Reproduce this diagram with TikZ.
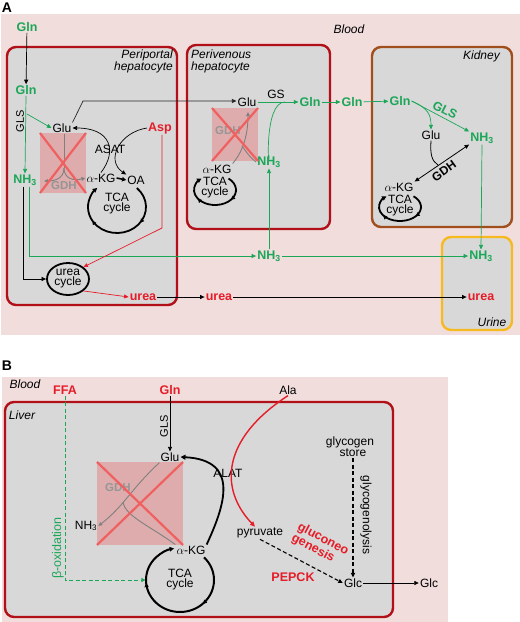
\documentclass[tikz,border=0pt]{standalone}
\usepackage{fontspec}
\setmainfont{Liberation Sans}
\usetikzlibrary{arrows.meta,decorations.markings,calc,shapes.geometric}
\definecolor{pinkbg}{RGB}{242,221,221}
\definecolor{cellg}{RGB}{216,216,216}
\definecolor{cellred}{RGB}{178,16,24}
\definecolor{kbrown}{RGB}{160,78,28}
\definecolor{ugold}{RGB}{246,186,30}
\definecolor{grn}{RGB}{28,166,88}
\definecolor{rd}{RGB}{230,28,40}
\definecolor{gdhf}{RGB}{222,172,172}
\definecolor{xred}{RGB}{240,96,96}
\definecolor{gtext}{RGB}{150,150,150}
\begin{document}
\begin{tikzpicture}[x=1pt,y=-1pt,
  font=\fontsize{12}{10}\selectfont,
  ar/.style={-{Triangle[length=4.5pt,width=4pt]}, line width=0.7pt},
  bl/.style={inner sep=1pt},
  gl/.style={text=grn, font=\fontsize{12.5}{10}\selectfont\bfseries, inner sep=1pt},
  rl/.style={text=rd, font=\fontsize{12.5}{10}\selectfont\bfseries, inner sep=1pt},
  itl/.style={font=\fontsize{12}{12}\selectfont\itshape, inner sep=0pt},
  cell/.style={fill=cellg, draw=cellred, line width=2.4pt, rounded corners=9pt},
  xl/.style={draw=xred, line width=2.2pt},
  gdht/.style={text=gtext, font=\fontsize{11.5}{10}\selectfont\bfseries, inner sep=0pt},
  gline/.style={draw=gtext!85!black, line width=0.9pt},
  gtip/.style={-{Triangle[length=4pt,width=3.5pt]}},
  small/.style={font=\fontsize{11}{10}\selectfont, inner sep=1pt},
  cyc/.style={line width=1.8pt, -{Triangle[length=4.5pt,width=4.5pt]},
    postaction={decorate},
    decoration={markings,
      mark=at position 0.3 with {\arrow{Triangle[length=4pt,width=4pt]}},
      mark=at position 0.72 with {\arrow{Triangle[length=4pt,width=4pt]}}}},
  dsh/.style={dash pattern=on 4pt off 2.5pt}
]
\useasboundingbox (0,0) rectangle (520,622);

%================ Panel A ================
\fill[pinkbg] (1,14) rectangle (520,335);
\draw[cell] (7,47) rectangle (177,305);
\draw[cell] (187,45) rectangle (330,229);
\draw[cell, draw=kbrown] (372,47) rectangle (512,227);
\draw[cell, draw=ugold] (442,237) rectangle (512,330);

\node[font=\fontsize{14}{14}\selectfont\bfseries, inner sep=0pt] (labA) at (7,8) {A};
\node[itl] (bloodA) at (349,29) {Blood};
\node[itl, align=right, anchor=north east] (pp) at (173,50) {Periportal\\hepatocyte};
\node[itl, align=left, anchor=north west] (pv) at (191,50) {Perivenous\\hepatocyte};
\node[itl, anchor=north east] (kid) at (500,51) {Kidney};
\node[itl] (urine) at (492,322) {Urine};

% GDH boxes (periportal, perivenous)
\fill[gdhf] (40,133) rectangle (86,193);
\fill[gdhf] (212,108) rectangle (258,161);

% labels periportal
\node[gl] (glnA) at (27,27) {Gln};
\node[gl] (gln2) at (26,90) {Gln};
\node[small, rotate=90] (glsA) at (20,121) {GLS};
\node[bl] (glu1) at (62,128) {Glu};
\node[rl] (asp) at (160,128) {Asp};
\node[bl] (asat) at (110,149) {ASAT};
\node[bl] (akg1) at (101,178) {$\alpha$-KG};
\node[bl] (oa) at (136,180) {OA};
\node[gl] (nh1) at (25,180) {NH\textsubscript{3}};
\node[gdht] (gdh1) at (64,186) {GDH};
\node[align=center] (tca1) at (117,204) {TCA\\cycle};
\node[ellipse, draw, line width=1.8pt, minimum width=42pt, minimum height=32pt,
      inner sep=0pt, align=center] (ucyc) at (68,279) {urea\\cycle};
\node[rl] (urea1) at (143,297) {urea};
\node[rl] (urea2) at (219,297) {urea};
\node[rl] (urea3) at (481,297) {urea};
\node[gl] (nhb) at (269,256) {NH\textsubscript{3}};
\node[gl] (nhu) at (481,256) {NH\textsubscript{3}};

% labels perivenous
\node[bl] (glu2) at (247,102) {Glu};
\node[bl] (gs) at (276,94) {GS};
\node[gl] (gln3) at (310,102) {Gln};
\node[gl] (gln4) at (352,102) {Gln};
\node[gl] (nhpv) at (269,162) {NH\textsubscript{3}};
\node[bl] (akg2) at (217,169) {$\alpha$-KG};
\node[gdht] (gdh2) at (228,131) {GDH};
\node[align=center] (tca2) at (215,188) {TCA\\cycle};

% labels kidney
\node[gl] (gln5) at (400,101) {Gln};
\node[bl] (glu3) at (431,135) {Glu};
\node[gl] (nhk) at (482,138) {NH\textsubscript{3}};
\node[gl, rotate=-27] (glsk) at (445,110) {GLS};
\node[bl, font=\fontsize{12}{10}\selectfont\bfseries, rotate=36] (gdhk) at (444,171) {GDH};
\node[bl] (akg3) at (399,187) {$\alpha$-KG};
\node[align=center] (tca3) at (400,206) {TCA\\cycle};

% gray GDH reactions (periportal)
\coordinate (gb1) at (64,168);
\draw[gline] (glu1.south -| gb1) -- (gb1);
\draw[gline, gtip] (gb1) .. controls (64,179) and (54,181) .. (44,181);
\draw[gline, gtip] (gb1) .. controls (64,179) and (74,181) .. (akg1.west);
% gray GDH (perivenous)
\coordinate (pvj) at (242,146);
\draw[gline, gtip] (akg2.north east) .. controls (240,155) and (248,140) .. (248,112);
\draw[gline] (nhpv.west) .. controls (250,157) .. (pvj);
% crosses
\draw[xl] (40,133) -- (86,193);
\draw[xl] (86,133) -- (40,193);
\draw[xl] (212,108) -- (258,161);
\draw[xl] (258,108) -- (212,161);

% connectors periportal
\draw[ar] (glnA) -- (gln2);
\draw[ar, grn] (gln2.south) -- (nh1.north);
\coordinate (glsst) at (27,114);
\draw[ar, grn] (glsst) -- (glu1.west);
\coordinate (gbend) at (83,101);
\draw[ar, black!85] (glu1.north east) -- (gbend) -- (gbend -| glu2.west);
\draw[ar] (akg1.north) .. controls (118,150) and (110,128) .. (glu1.east);
\draw[ar] (asp.west) .. controls (120,132) and (105,160) .. (oa.north west);
\draw[-{Triangle[length=4pt,width=4.5pt]}, line width=1.6pt] (akg1.east) -- (oa.west);
\draw[cyc] (117,207) ++(-47:29 and 26) arc[start angle=-47, end angle=227, x radius=29, y radius=26];

\draw[ar] ($(nh1.south)+(-2,0)$) |- (ucyc.west);
\draw[ar, grn] ($(nh1.south)+(4,0)$) |- (nhb.west);
\coordinate (redb) at (162,228);
\draw[ar, rd] (asp.south -| redb) -- (redb) -- (ucyc.north east);
\draw[ar, rd] (ucyc.south east) -- (urea1.west);
\draw[ar] (urea1) -- (urea2);
\draw[ar] (urea2) -- (urea3);
\draw[ar, grn] (nhb) -- (nhu);
\draw[ar, grn] (nhb.north) -- (nhpv.south);

% connectors perivenous
\draw[ar, grn] (glu2.east) -- (gln3.west);
\coordinate (gsj) at (285,102);
\draw[grn, line width=0.7pt] (nhpv.north) to[out=-90, in=180] (gsj);
\draw[ar, grn] (gln3) -- (gln4);
\draw[ar, grn] (gln4) -- (gln5);
\draw[cyc] (215,190) ++(-50:21 and 15) arc[start angle=-50, end angle=230, x radius=21, y radius=15];

% connectors kidney
\draw[ar, grn] (gln5.east) -- (nhk.north west);
\draw[ar, grn] (gln5.east) .. controls (428,108) and (431,115) .. (glu3.north);
\draw[{Triangle[length=4.5pt,width=4pt]}-{Triangle[length=4.5pt,width=4pt]}, line width=0.8pt]
   (akg3.north east) -- (nhk.south west);
\coordinate (gdhj) at (438,165);
\draw[line width=0.8pt] (glu3.south) .. controls (430,155) and (432,161) .. (gdhj);
\draw[ar, grn] (nhk.south) -- (nhu.north);
\draw[cyc] (400,207) ++(-50:21 and 14) arc[start angle=-50, end angle=230, x radius=21, y radius=14];

%================ Panel B ================
\fill[pinkbg] (2,377) rectangle (448,622);
\draw[cell] (5,402) rectangle (393,617);
\node[font=\fontsize{14}{14}\selectfont\bfseries, inner sep=0pt] (labB) at (7,366) {B};
\node[itl] (bloodB) at (25,384) {Blood};
\node[itl] (liver) at (22,415) {Liver};
\node[rl] (ffa) at (65,390) {FFA};
\node[rl] (glnB) at (170,390) {Gln};
\node[bl] (ala) at (288,390) {Ala};
\node[small, rotate=90] (glsB) at (164,426) {GLS};
\node[bl] (gluB) at (170,457) {Glu};
\node[bl] (alat) at (228,473) {ALAT};
\fill[gdhf] (97,462) rectangle (183,545);
\node[gdht] (gdhB) at (118,488) {GDH};
\node[bl] (nhB) at (86,526) {NH\textsubscript{3}};
\node[bl] (akgB) at (191,550) {$\alpha$-KG};
\node[ellipse, minimum width=68pt, minimum height=64pt, inner sep=0pt, align=center] (tcaB) at (180,580) {TCA\\cycle};
\node[text=grn, rotate=90, font=\fontsize{12.5}{12}\selectfont, inner sep=1pt] (box) at (58,548) {β-oxidation};
\node[bl] (pyr) at (260,533) {pyruvate};
\node[bl, align=center] (glyc) at (350,447) {glycogen\\\hspace*{6pt}store};
\node[bl, rotate=-90] (glyl) at (366,515) {glycogenolysis};
\node[bl] (glc1) at (353,583) {Glc};
\node[bl] (glc2) at (429,583) {Glc};
\node[rl, rotate=-28, align=left, inner sep=0pt] (gng) at (320,545) {gluconeo\\genesis};
\node[rl] (pepck) at (293,577) {PEPCK};

% gray GDH in B
\coordinate (bj) at (123,502);
\draw[gline, gtip] (gluB.south west) .. controls (130,490) and (125,505) .. (nhB.east);
\draw[gline] (bj) .. controls (125,516) and (150,526) .. (akgB.north west);
\draw[xl] (97,462) -- (183,545);
\draw[xl] (183,462) -- (97,545);

% connectors B
\draw[ar, grn, dsh, line width=1pt] (ffa.south) |- (tcaB.west);
\draw[ar] (glnB) -- (gluB);
\draw[line width=1.8pt, -{Triangle[length=5pt,width=5pt]}] (akgB.north east) .. controls (225,505) and (240,460) .. (gluB.east);
\draw[rd, line width=1.4pt, -{Triangle[length=5pt,width=4.5pt]}] (ala.south) .. controls (220,440) and (220,490) .. ($(pyr.north)+(-5,0)$);
\draw[cyc, line width=2pt] (180,580) ++(-45:34 and 32) arc[start angle=-45, end angle=260, x radius=34, y radius=32];
\draw[ar, dsh, line width=1.1pt] (pyr.south) -- (glc1.west);
\draw[ar, dsh, line width=1.1pt] (glyc.south -| glc1.north) -- (glc1.north);
\draw[ar] (glc1) -- (glc2);
\end{tikzpicture}
\end{document}
